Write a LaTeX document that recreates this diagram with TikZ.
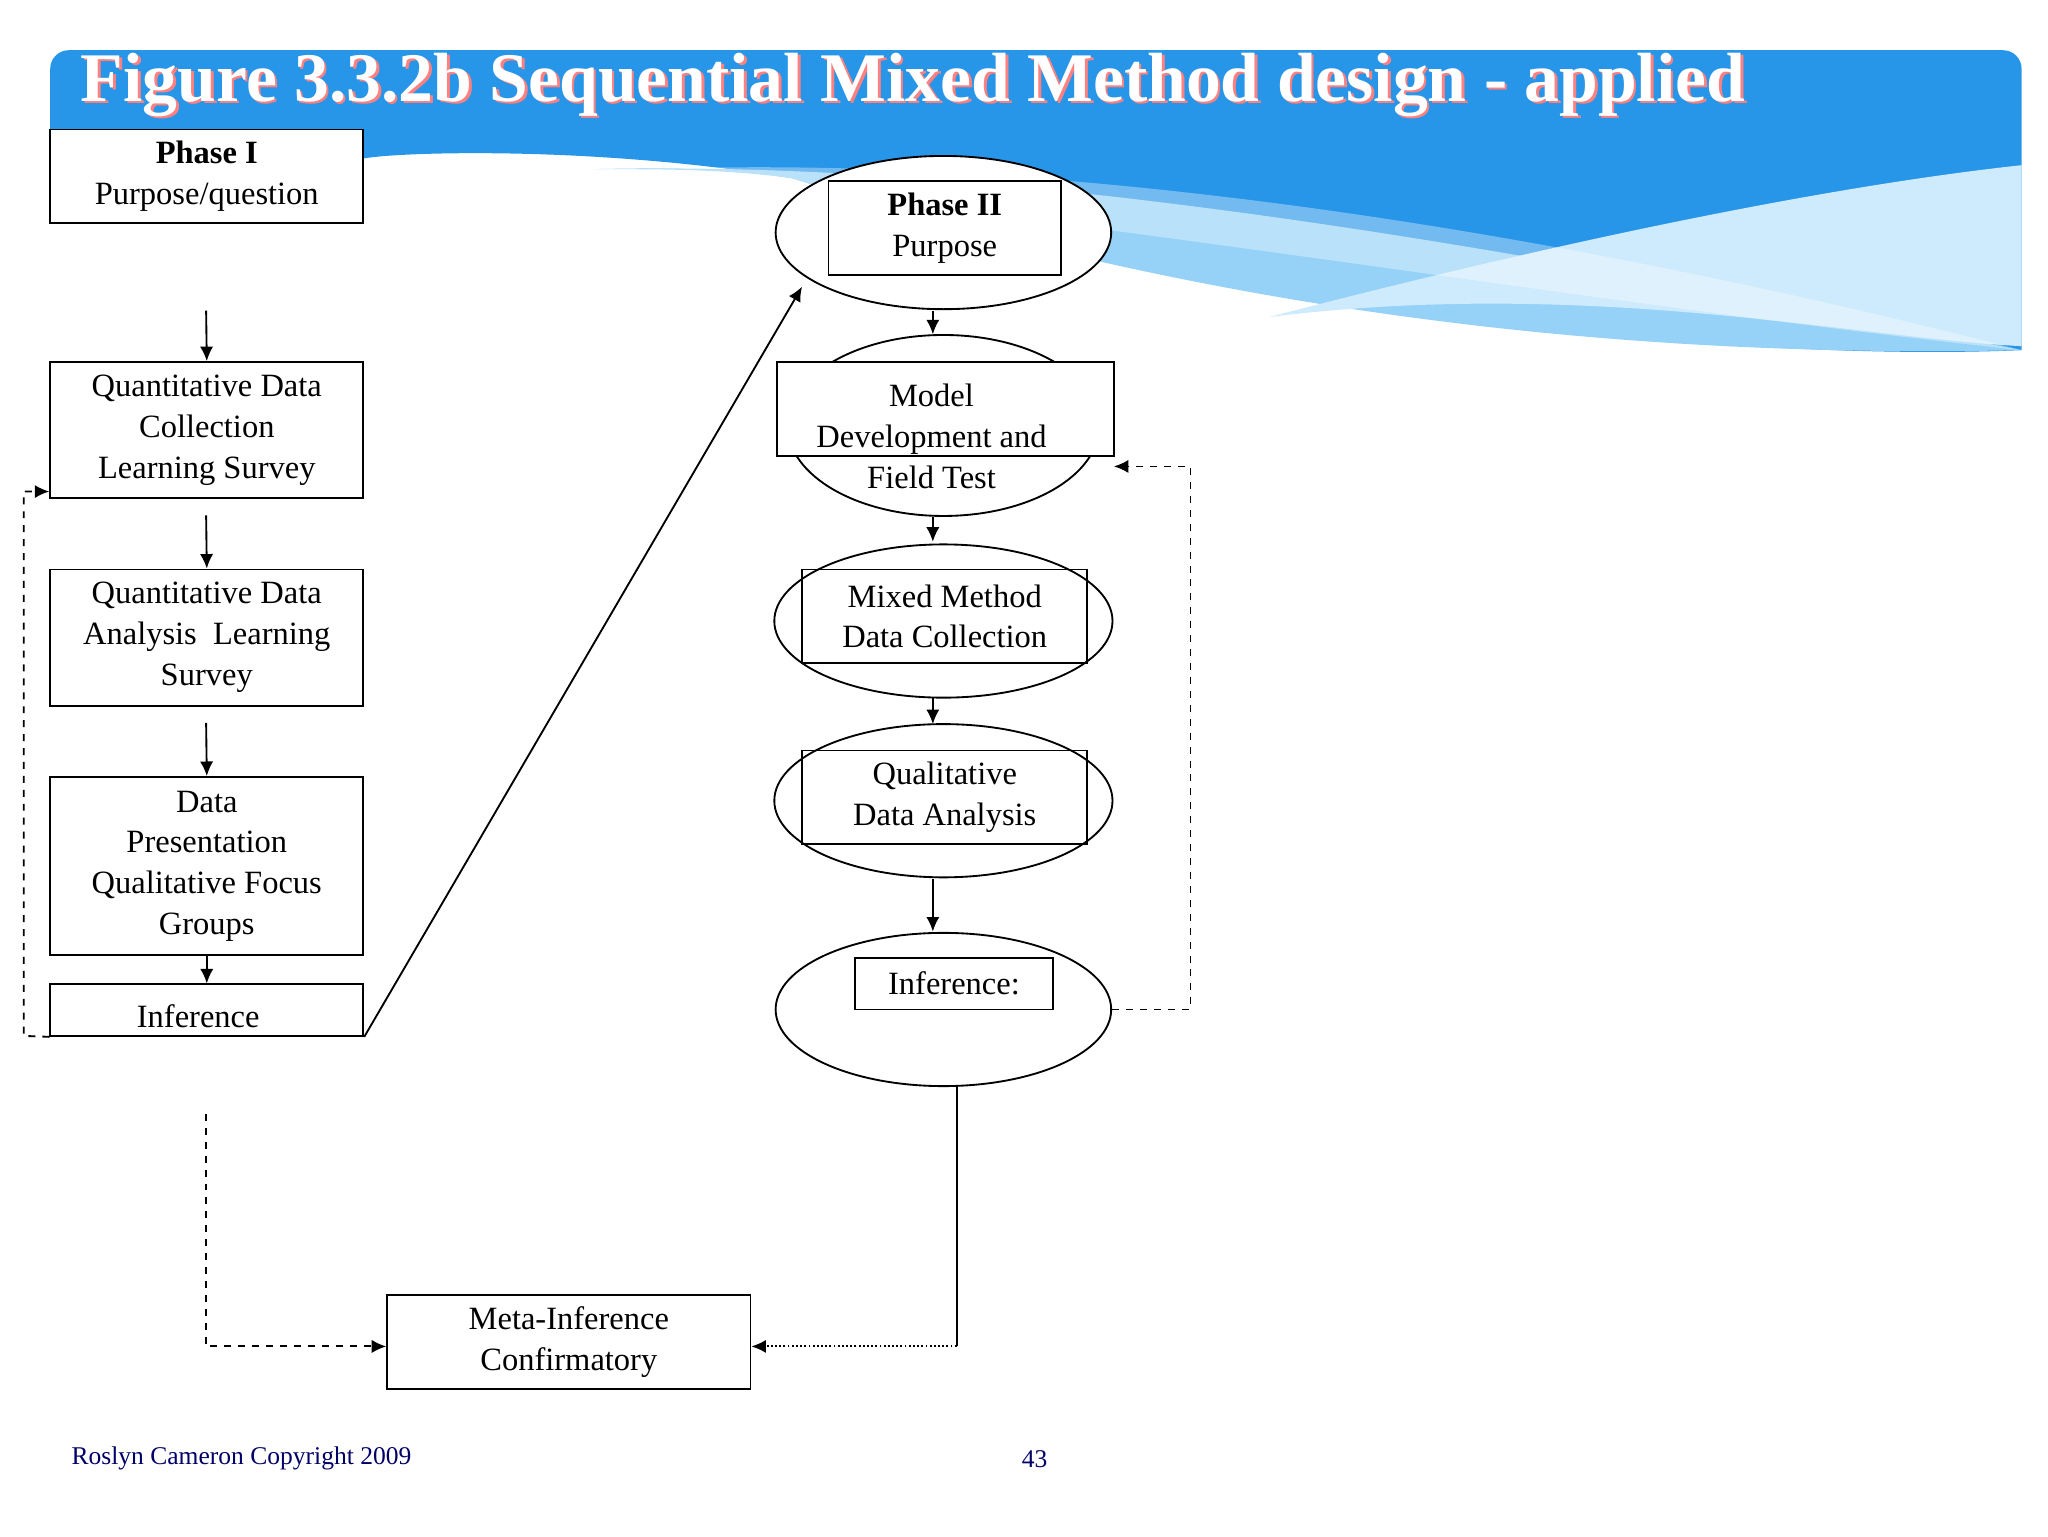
\documentclass[tikz,border=0pt]{standalone}
\usepackage{fontspec}
\setmainfont{Liberation Serif}
\usetikzlibrary{shapes.geometric,arrows.meta}
\definecolor{hb}{RGB}{40,150,232}
\definecolor{hl}{RGB}{150,210,248}
\definecolor{hv}{RGB}{205,235,252}
\begin{document}
\begin{tikzpicture}[x=0.02cm,y=-0.02cm,
  txt/.style={font=\fontsize{14}{17.6}\selectfont,align=center},
  box/.style={draw,line width=0.8pt,inner sep=0},
  ell/.style={draw,ellipse,line width=0.8pt,inner sep=0,fill=white},
  arr/.style={-{Latex[length=2.2mm,width=2mm]},line width=0.8pt},
  dsh/.style={arr,dashed},
  ]
\useasboundingbox (0,0) rectangle (1550,1162.5);
% header band
\fill[hb] (38,100) -- (38,52) to[out=90,in=180] (52,38) -- (1516,38) to[out=0,in=90] (1530,52) -- (1530,265)
  .. controls (1300,275) and (900,230) .. (600,135) .. controls (450,110) and (300,115) .. (275,120) -- (275,100) -- cycle;
\fill[hl] (450,128) .. controls (800,120) and (1200,200) .. (1530,265) .. controls (1200,272) and (900,230) .. (600,135) .. controls (550,128) and (500,128) .. (450,128);
\fill[hv] (1530,125) .. controls (1300,150) and (1000,230) .. (960,240) .. controls (1200,210) and (1400,255) .. (1530,262) -- cycle;
\fill[white,opacity=0.35] (450,130) .. controls (800,110) and (1200,180) .. (1530,265) .. controls (1200,230) and (800,160) .. (450,130);
\node[text=red!50,font=\fontsize{30}{36}\bfseries\selectfont,anchor=west] at (57,66) {Figure 3.3.2b Sequential Mixed Method design - applied};
\node[text=white,font=\fontsize{30}{36}\bfseries\selectfont,anchor=west] (title) at (55,64) {Figure 3.3.2b Sequential Mixed Method design - applied};
% left column
\node[box,fill=white,minimum width=4.74cm,minimum height=1.42cm] (p1) at (156.5,133.5) {};
\node[txt] at (p1) {\textbf{Phase I}\\Purpose/question};
\node[box,minimum width=4.74cm,minimum height=2.06cm,txt] (qdc) at (156.5,325.5) {Quantitative Data\\Collection\\Learning Survey};
\node[box,minimum width=4.74cm,minimum height=2.06cm,txt] (qda) at (156.5,482.5) {Quantitative Data\\Analysis~~Learning\\Survey};
\node[box,minimum width=4.74cm,minimum height=2.7cm,txt] (dp) at (156.5,655.5) {Data\\Presentation\\Qualitative Focus\\Groups};
\node[box,minimum width=4.74cm,minimum height=0.78cm] (inf) at (156.5,764.5) {};
\node[txt] at (150,769) {Inference};
\coordinate (a1) at (156,235);
\draw[arr] (a1) -- (qdc.north);
\coordinate (a2) at (156,390);
\draw[arr] (a2) -- (qda.north);
\coordinate (a3) at (156,547);
\draw[arr] (a3) -- (dp.north);
\draw[arr] (dp.south) -- (inf.north);
\coordinate (l1) at (18,784); \coordinate (l2) at (18,372);
\draw[dsh] (inf.south west) -- (l1) -- (l2) -- (qdc.west |- l2);
\coordinate (d1) at (156,843); \coordinate (d2) at (156,1019);
% right column
\node[ell,minimum width=2.54cm*2,minimum height=1.16cm*2] (e1) at (714,176) {};
\node[box,minimum width=3.52cm,minimum height=1.42cm,txt] (b1) at (715,172.5) {\textbf{Phase II}\\Purpose};
\coordinate (up) at (607,217);
\draw[arr] (inf.south east) -- (up);
\node[ell,minimum width=2.36cm*2,minimum height=1.37cm*2] (e2) at (714,322) {};
\node[box,fill=white,minimum width=5.1cm,minimum height=1.42cm] (b2) at (715.5,309.5) {};
\node[txt] at (705,330) {Model\\Development and\\Field Test};
\node[ell,minimum width=2.56cm*2,minimum height=1.16cm*2] (e3) at (714,470) {};
\node[box,minimum width=4.32cm,minimum height=1.42cm,txt] (b3) at (715,466.5) {Mixed Method\\Data Collection};
\node[ell,minimum width=2.56cm*2,minimum height=1.16cm*2] (e4) at (714,606) {};
\node[box,minimum width=4.32cm,minimum height=1.42cm,txt] (b4) at (715,603.5) {Qualitative\\Data Analysis};
\node[ell,minimum width=2.54cm*2,minimum height=1.16cm*2] (e5) at (714,764) {};
\node[box,minimum width=3.0cm,minimum height=0.78cm,txt] (b5) at (722,744.5) {Inference:};
\draw[arr] (706,235) -- (706,253);
\draw[arr] (706,391) -- (706,410);
\draw[arr] (706,528) -- (706,548);
\draw[arr] (706,665) -- (706,705);
\coordinate (r1) at (901,764); \coordinate (r2) at (901,353);
\draw[dsh] (e5.east) -- (r1) -- (r2) -- (843,353);
% meta
\node[box,minimum width=5.5cm,minimum height=1.42cm,txt] (meta) at (430.5,1015.5) {Meta-Inference\\Confirmatory};
\draw[dsh] (d1) -- (d2) -- (meta.west |- d2);
\coordinate (m1) at (724,822); \coordinate (m2) at (724,1019);
\draw[line width=0.8pt] (m1) -- (m2);
\draw[arr,densely dotted] (m2) -- (meta.east |- m2);
% footer
\node[anchor=west,text=blue!40!black,font=\fontsize{11}{13}\selectfont] (f1) at (48,1104) {Roslyn Cameron Copyright 2009};
\node[text=blue!40!black,font=\fontsize{11}{13}\selectfont] (f2) at (783,1104) {43};
\end{tikzpicture}
\end{document}
